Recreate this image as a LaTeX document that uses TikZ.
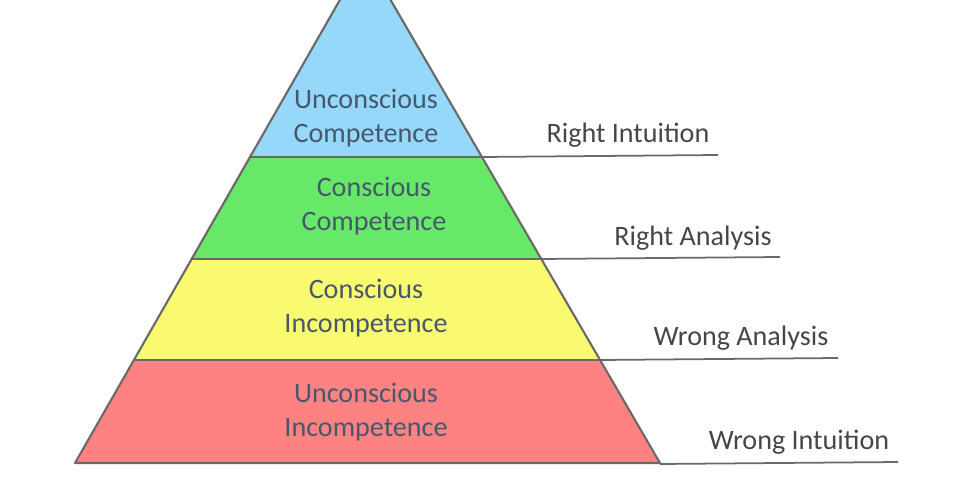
\documentclass[tikz,border=0pt]{standalone}
\usepackage{fontspec}
\setmainfont{Carlito}
\usetikzlibrary{positioning,calc}
\definecolor{skyband}{RGB}{150,216,250}
\definecolor{greenband}{RGB}{104,232,104}
\definecolor{yellowband}{RGB}{250,250,112}
\definecolor{redband}{RGB}{255,130,130}
\definecolor{edgegray}{RGB}{105,105,105}
\definecolor{labeltext}{RGB}{70,88,108}
\definecolor{sidetext}{RGB}{70,70,70}
\tikzset{
  band/.style={draw=edgegray,line width=1.2pt,line join=round},
  bandlabel/.style={text=labeltext,align=center,font=\fontsize{16}{19}\selectfont},
  sidelabel/.style={text=sidetext,font=\fontsize{16}{19}\selectfont,anchor=south},
  rule/.style={draw=edgegray,line width=1pt}
}
\begin{document}
\begin{tikzpicture}[x=0.02cm,y=-0.02cm]
		\useasboundingbox (0,0) rectangle (960,503);
		\clip (0,0) rectangle (960,503);
		
		% layers of the pyramid
		\fill[skyband] (365,-44) -- (250,157) -- (482,157) -- cycle;
		\fill[greenband] (250,157) -- (192,259) -- (541,259) -- (482,157) -- cycle;
		\fill[yellowband] (192,259) -- (134,360) -- (600,360) -- (541,259) -- cycle;
		\fill[redband] (134,360) -- (75,463) -- (660,463) -- (600,360) -- cycle;
		\draw[band] (250,157) -- (482,157) (192,259) -- (541,259) (134,360) -- (600,360);
		\draw[band] (365,-44) -- (75,463) -- (660,463) -- cycle;
		
		\node[bandlabel] (UC) at (366,118) {Unconscious\\Competence};
		\node[bandlabel] (CC) at (374,206) {Conscious\\Competence};
		\node[bandlabel] (CI) at (366,308) {Conscious\\Incompetence};
		\node[bandlabel] (UI) at (366,412) {Unconscious\\Incompetence};
		
		% lines to the right
		\coordinate (RI) at (718,155);
		\coordinate (RA) at (780,257);
		\coordinate (WA) at (838,358);
		\coordinate (WI) at (898,462);
		\draw[rule] (482,157) -- (RI);
		\draw[rule] (541,259) -- (RA);
		\draw[rule] (600,360) -- (WA);
		\draw[rule] (660,464) -- (WI);
		
		\node[sidelabel] (RI text) at (628,154) {Right Intuition};
		\node[sidelabel] (RA text) at (693,257) {Right Analysis};
		\node[sidelabel] (WA text) at (741,357) {Wrong Analysis};
		\node[sidelabel] (WI text) at (799,461) {Wrong Intuition};
		
		\end{tikzpicture}
\end{document}
